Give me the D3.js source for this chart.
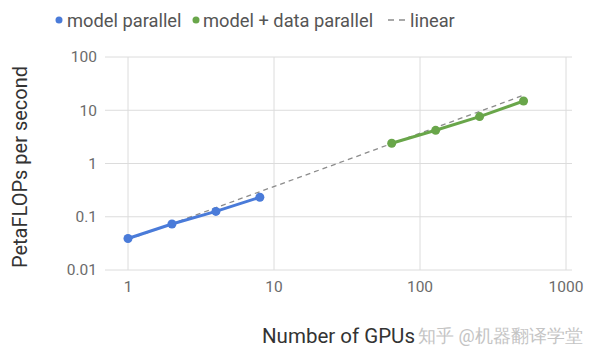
<!DOCTYPE html>
<html>
<head>
<meta charset="utf-8">
<script src="https://cdn.jsdelivr.net/npm/d3@7"></script>
<style>
  body { margin: 0; background: #fff; }
  svg { display: block; font-family: Roboto, "Noto Sans", sans-serif; }
</style>
</head>
<body>
<svg width="600" height="362"></svg>
<script>
// data
var modelGpus = [1, 2, 4, 8];
var modelFlops = [0.039, 0.073, 0.126, 0.232];
var dataGpus = [64, 128, 256, 512];
var dataFlops = [2.4, 4.2, 7.6, 14.9];
var linearGpus = [1, 2, 4, 8, 16, 32, 64, 128, 256, 512];
var linearFlops = [0.037, 0.074, 0.148, 0.296, 0.59, 1.18, 2.37, 4.74, 9.5, 19.2];
var xTicks = [1, 10, 100, 1000];
var yTicks = [0.01, 0.1, 1, 10, 100];

var blue = "#4a7bd9", green = "#69a64a", grey = "#8c8c8c";

var svg = d3.select("svg");

var x = d3.scaleLog().domain([1, 1000]).range([128, 566]);
var y = d3.scaleLog().domain([0.01, 100]).range([270, 57]);

var gridG = svg.append("g").attr("class", "grid");
gridG.selectAll("line.h").data(yTicks).enter().append("line")
    .attr("x1", 105).attr("x2", 572)
    .attr("y1", d => y(d)).attr("y2", d => y(d))
    .attr("stroke", "#dcdcdc").attr("stroke-width", 1);
gridG.selectAll("line.v").data(xTicks).enter().append("line")
    .attr("x1", d => x(d)).attr("x2", d => x(d))
    .attr("y1", y(100)).attr("y2", y(0.01))
    .attr("stroke", "#dcdcdc").attr("stroke-width", 1);

// tick labels
svg.append("g").selectAll("text").data(yTicks).enter().append("text")
    .attr("x", 97).attr("y", d => y(d)).attr("dy", "0.35em")
    .attr("text-anchor", "end").attr("fill", "#6b6b6b").style("font-size", "15.5px")
    .text(d => d3.format("~g")(d));
svg.append("g").selectAll("text").data(xTicks).enter().append("text")
    .attr("x", d => x(d)).attr("y", 292)
    .attr("text-anchor", "middle").attr("fill", "#6b6b6b").style("font-size", "15.5px")
    .text(d => d);

// axis titles
svg.append("text")
    .attr("transform", "translate(27,167) rotate(-90)")
    .attr("text-anchor", "middle").attr("fill", "#333").style("font-size", "20px")
    .text("PetaFLOPs per second");
svg.append("text")
    .attr("x", 262).attr("y", 343)
    .attr("fill", "#333").style("font-size", "20.5px")
    .text("Number of GPUs");
svg.append("text")
    .attr("x", 418).attr("y", 342)
    .attr("fill", "#c4c4c4").style("font-size", "18px")
    .text("知乎 @机器翻译学堂");

var line = d3.line().x(d => x(d[0])).y(d => y(d[1]));

// linear reference
svg.append("path")
    .attr("d", line(d3.zip(linearGpus, linearFlops)))
    .attr("fill", "none").attr("stroke", grey).attr("stroke-width", 1.3)
    .attr("stroke-dasharray", "5,4");

function series(xs, ys, color) {
    var pts = d3.zip(xs, ys);
    var g = svg.append("g");
    g.append("path").attr("d", line(pts))
        .attr("fill", "none").attr("stroke", color).attr("stroke-width", 3);
    g.selectAll("circle").data(pts).enter().append("circle")
        .attr("cx", d => x(d[0])).attr("cy", d => y(d[1])).attr("r", 4.5)
        .attr("fill", color);
}
series(modelGpus, modelFlops, blue);
series(dataGpus, dataFlops, green);

// legend
var leg = svg.append("g").style("font-size", "18.3px").attr("fill", "#555");
leg.append("circle").attr("cx", 59).attr("cy", 20).attr("r", 3.5).attr("fill", blue);
leg.append("text").attr("x", 67).attr("y", 26.5).text("model parallel");
leg.append("circle").attr("cx", 196).attr("cy", 20).attr("r", 3.5).attr("fill", green);
leg.append("text").attr("x", 203).attr("y", 26.5).text("model + data parallel");
leg.append("line").attr("x1", 388).attr("x2", 405).attr("y1", 20).attr("y2", 20)
    .attr("stroke", grey).attr("stroke-width", 1.5).attr("stroke-dasharray", "6,5");
leg.append("text").attr("x", 410).attr("y", 26.5).text("linear");
</script>
</body>
</html>
